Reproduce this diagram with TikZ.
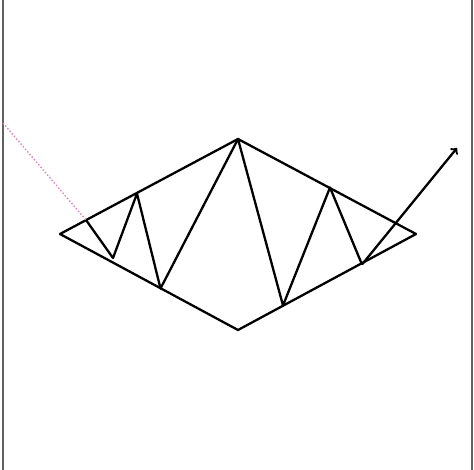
\documentclass[tikz,border=0pt]{standalone}
\usepackage{xcolor}
\usepackage{tikz}
\definecolor{ray}{rgb}{0.9,0.5,0.72}
\definecolor{frame}{rgb}{0.38,0.38,0.38}

\begin{document}
\begin{tikzpicture}[x=1pt,y=-1pt, every path/.style={line width=2.3pt, line join=round}]
					\useasboundingbox (0,0) rectangle (474,470);
					\coordinate (fl1) at (3,0);
					\coordinate (fl2) at (3,470);
					\coordinate (fr1) at (471.5,0);
					\coordinate (fr2) at (471.5,470);
					\coordinate (left) at (60,234);
					\coordinate (top) at (238,139);
					\coordinate (right) at (416,234);
					\coordinate (bottom) at (238,330);
					\coordinate (src) at (3,123);
					\coordinate (b1) at (86,220);
					\coordinate (b2) at (113,258);
					\coordinate (b3) at (137,193.5);
					\coordinate (b4) at (160.5,288.5);
					\coordinate (b5) at (283,305.5);
					\coordinate (b6) at (330,187.5);
					\coordinate (b7) at (362,264.5);
					\coordinate (out) at (457,148);
					
					\draw[color=frame,line width=2pt] (fl1) to[] (fl2);
					\draw[color=frame,line width=2pt] (fr1) to[] (fr2);
					
					\draw[color=black] (left) to[] (top) to[] (right) to[] (bottom) to[] cycle;
					\draw[color=ray,line width=1.4pt,dotted] (src) to[] (b1);
					\draw[color=black] (b1) to[] (b2) to[] (b3) to[] (b4) to[] (top) to[] (b5) to[] (b6) to[] (b7);
					\draw[color=black,->] (b7) to[] (out);
				\end{tikzpicture}
\end{document}
